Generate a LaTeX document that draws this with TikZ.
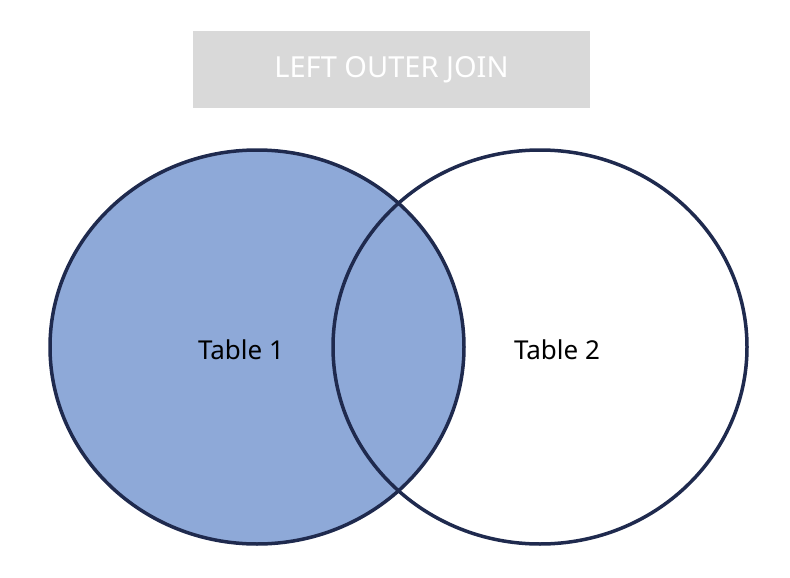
\documentclass[tikz,border=0pt]{standalone}
\usepackage{fontspec}
\setmainfont{Noto Sans}
\definecolor{navy}{HTML}{1F2A4E}
\definecolor{fillblue}{HTML}{8EA9D8}
\definecolor{titlegray}{HTML}{D9D9D9}
\begin{document}
\begin{tikzpicture}[x=1pt,y=-1pt,
  circ/.style={draw=navy,line width=3.5pt},
  lbl/.style={font=\fontsize{26}{30}\selectfont,text=black}]
\useasboundingbox (0,0) rectangle (790,578);
\node[fill=titlegray,minimum width=397pt,minimum height=77pt,inner sep=0pt,
  text=white,font=\fontsize{29}{34}\selectfont\bfseries] (title) at (391.5,69.5) {LEFT OUTER JOIN};
\fill[fillblue] (257,347) ellipse [x radius=207, y radius=197];
\draw[circ] (257,347) ellipse [x radius=207, y radius=197];
\draw[circ] (540,347) ellipse [x radius=207, y radius=197];
\node[lbl] (t1) at (241,350) {Table 1};
\node[lbl] (t2) at (557,350) {Table 2};
\end{tikzpicture}
\end{document}
